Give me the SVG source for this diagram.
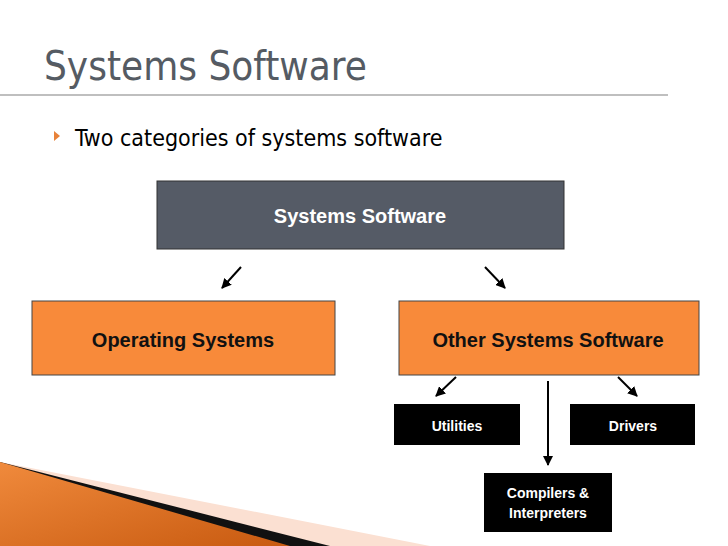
<svg xmlns="http://www.w3.org/2000/svg" width="728" height="546" viewBox="0 0 728 546">
<defs>
<style>
.t{font-family:"Liberation Sans",Arial,sans-serif;font-weight:bold;text-anchor:middle}
.c{stroke:#000;stroke-width:2;fill:none;marker-end:url(#ah)}
</style>
<marker id="ah" viewBox="0 0 10 10" refX="9" refY="5" markerWidth="5" markerHeight="5" orient="auto"><path d="M0,0L10,5L0,10z" fill="#000"/></marker>
<linearGradient id="og" x1="0" y1="0" x2="1" y2="1"><stop offset="0" stop-color="#f08a3c"/><stop offset="1" stop-color="#c85a10"/></linearGradient>
</defs>
<rect width="728" height="546" fill="#fff"/>
<g id="decor">
<polygon points="0,462 430,546 0,546" fill="#fbe0d2"/>
<polygon points="0,462 330,546 0,546" fill="#111"/>
<polygon points="0,462 290,546 0,546" fill="url(#og)"/>
</g>
<g id="title">
<text x="44" y="80" font-family="'DejaVu Sans Condensed','DejaVu Sans',sans-serif" font-size="40" fill="#555b63">Systems Software</text>
<line x1="0" y1="95" x2="668" y2="95" stroke="#aaa" stroke-width="1.5"/>
<polygon points="54,131 60,136 54,141" fill="#e8823a"/>
<text x="75" y="146" font-family="'DejaVu Sans Condensed','DejaVu Sans',sans-serif" font-size="23" fill="#000">Two categories of systems software</text>
</g>
<g id="connectors">
<line class="c" x1="241" y1="267" x2="222" y2="288"/>
<line class="c" x1="485" y1="267" x2="505" y2="288"/>
<line class="c" x1="456" y1="377" x2="436" y2="396"/>
<line class="c" x1="548" y1="381" x2="548" y2="465"/>
<line class="c" x1="618" y1="377" x2="637" y2="396"/>
</g>
<g id="systems-software">
<rect x="157" y="181" width="407" height="68" fill="#555b66" stroke="#333" stroke-width="1"/>
<text class="t" x="360" y="223" font-size="20" fill="#fff">Systems Software</text>
</g>
<g id="operating-systems">
<rect x="32" y="301" width="303" height="74" fill="#f88a3a" stroke="#444" stroke-width="1"/>
<text class="t" x="183" y="347" font-size="20" fill="#111">Operating Systems</text>
</g>
<g id="other-systems-software">
<rect x="399" y="301" width="300" height="74" fill="#f88a3a" stroke="#444" stroke-width="1"/>
<text class="t" x="548" y="347" font-size="20" fill="#111">Other Systems Software</text>
</g>
<g id="utilities">
<rect x="394" y="404" width="126" height="41" fill="#000"/>
<text class="t" x="457" y="431" font-size="14" fill="#fff">Utilities</text>
</g>
<g id="drivers">
<rect x="570" y="404" width="125" height="41" fill="#000"/>
<text class="t" x="633" y="431" font-size="14" fill="#fff">Drivers</text>
</g>
<g id="compilers">
<rect x="484" y="473" width="128" height="59" fill="#000"/>
<text class="t" x="548" y="498" font-size="14" fill="#fff">Compilers &amp;</text>
<text class="t" x="548" y="518" font-size="14" fill="#fff">Interpreters</text>
</g>
</svg>
